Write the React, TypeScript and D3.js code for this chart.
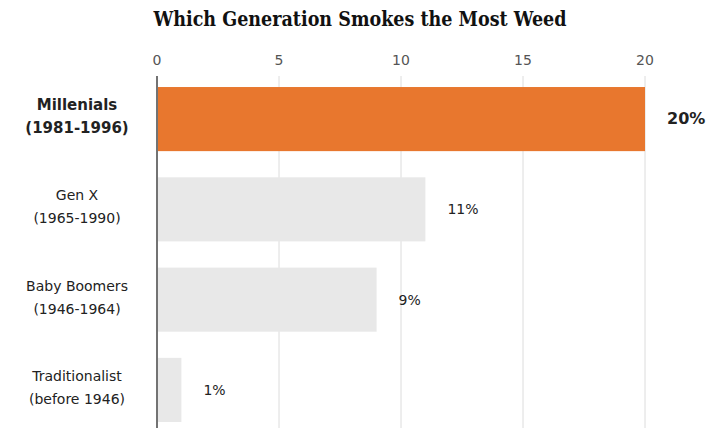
import React from "react";
import * as d3 from "d3";

const categories = ["Millenials", "Gen X", "Baby Boomers", "Traditionalist"];
const subLabels = ["(1981-1996)", "(1965-1990)", "(1946-1964)", "(before 1946)"];
const values = [20, 11, 9, 1];
const ticks = [0, 5, 10, 15, 20];
const highlight = "Millenials";

export default function App() {
  const W = 720, H = 432;
  const x = d3.scaleLinear().domain([0, 20]).range([157, 645]);
  const y = d3.scaleBand<string>().domain(categories).range([78, 431]).paddingInner(0.29).paddingOuter(0.1);
  const sans = "'DejaVu Sans', sans-serif";
  return (
    <svg width={W} height={H} style={{ position: "absolute", left: 0, top: 0 }}>
      <rect width={W} height={H} fill="#fff" />
      <text x={360} y={26} textAnchor="middle" fontFamily="'DejaVu Serif', serif" fontWeight="bold" fontSize={19.5} style={{ fontStretch: "condensed" }} fill="#111">
        Which Generation Smokes the Most Weed
      </text>
      {ticks.map((t) => (
        <g key={t}>
          <line x1={x(t)} x2={x(t)} y1={76} y2={428} stroke={t === 0 ? "#444" : "#dcdcdc"} strokeWidth={t === 0 ? 1.5 : 1} />
          <text x={x(t)} y={65} textAnchor="middle" fontFamily={sans} fontSize={14} fill="#555">{t}</text>
        </g>
      ))}
      {categories.map((c, i) => {
        const by = y(c)!;
        const bw = y.bandwidth();
        const hl = c === highlight;
        const fs = hl ? 15 : 14;
        return (
          <g key={c}>
            <rect x={x(0) + 1} y={by} width={x(values[i]) - x(0) - 1} height={bw} fill={hl ? "#E8772E" : "#E8E8E8"} />
            <text x={77} y={by + bw / 2 - 9} textAnchor="middle" fontFamily={sans} fontSize={fs} fontWeight={hl ? "bold" : "normal"} fill="#222">{c}</text>
            <text x={77} y={by + bw / 2 + 14} textAnchor="middle" fontFamily={sans} fontSize={fs} fontWeight={hl ? "bold" : "normal"} fill="#222">{subLabels[i]}</text>
            <text x={x(values[i]) + 22} y={by + bw / 2 + 5} fontFamily={sans} fontSize={hl ? 16 : 14} fontWeight={hl ? "bold" : "normal"} fill="#222">{values[i]}%</text>
          </g>
        );
      })}
    </svg>
  );
}
